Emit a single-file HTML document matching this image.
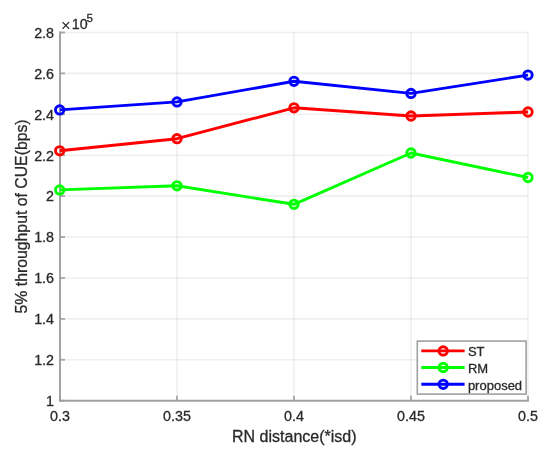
<!DOCTYPE html>
<html><head><meta charset="utf-8"><title>5% throughput of CUE</title>
<style>
html,body{margin:0;padding:0;background:#fff;}
body{width:550px;height:453px;overflow:hidden;}
svg{display:block;filter:blur(0.35px);}
svg text{font-family:"Liberation Sans", Arial, Helvetica, sans-serif;fill:#2a2a2a;stroke:#2a2a2a;stroke-width:0.3px;}
</style></head>
<body>
<svg width="550" height="453" viewBox="0 0 550 453">
<rect width="550" height="453" fill="#fff"/>
<line x1="177.0" y1="32.5" x2="177.0" y2="400.7" stroke="rgba(38,38,38,0.075)" stroke-width="1.6"/>
<line x1="294.0" y1="32.5" x2="294.0" y2="400.7" stroke="rgba(38,38,38,0.075)" stroke-width="1.6"/>
<line x1="411.0" y1="32.5" x2="411.0" y2="400.7" stroke="rgba(38,38,38,0.075)" stroke-width="1.6"/>
<line x1="528.0" y1="32.5" x2="528.0" y2="400.7" stroke="rgba(38,38,38,0.075)" stroke-width="1.6"/>
<line x1="60.0" y1="359.79" x2="528.0" y2="359.79" stroke="rgba(38,38,38,0.075)" stroke-width="1.6"/>
<line x1="60.0" y1="318.88" x2="528.0" y2="318.88" stroke="rgba(38,38,38,0.075)" stroke-width="1.6"/>
<line x1="60.0" y1="277.97" x2="528.0" y2="277.97" stroke="rgba(38,38,38,0.075)" stroke-width="1.6"/>
<line x1="60.0" y1="237.06" x2="528.0" y2="237.06" stroke="rgba(38,38,38,0.075)" stroke-width="1.6"/>
<line x1="60.0" y1="196.14" x2="528.0" y2="196.14" stroke="rgba(38,38,38,0.075)" stroke-width="1.6"/>
<line x1="60.0" y1="155.23" x2="528.0" y2="155.23" stroke="rgba(38,38,38,0.075)" stroke-width="1.6"/>
<line x1="60.0" y1="114.32" x2="528.0" y2="114.32" stroke="rgba(38,38,38,0.075)" stroke-width="1.6"/>
<line x1="60.0" y1="73.41" x2="528.0" y2="73.41" stroke="rgba(38,38,38,0.075)" stroke-width="1.6"/>
<line x1="60.0" y1="32.50" x2="528.0" y2="32.50" stroke="rgba(38,38,38,0.075)" stroke-width="1.6"/>
<line x1="60.0" y1="400.7" x2="60.0" y2="395.7" stroke="#a6a6a6" stroke-width="1.8"/>
<line x1="177.0" y1="400.7" x2="177.0" y2="395.7" stroke="#a6a6a6" stroke-width="1.8"/>
<line x1="294.0" y1="400.7" x2="294.0" y2="395.7" stroke="#a6a6a6" stroke-width="1.8"/>
<line x1="411.0" y1="400.7" x2="411.0" y2="395.7" stroke="#a6a6a6" stroke-width="1.8"/>
<line x1="528.0" y1="400.7" x2="528.0" y2="395.7" stroke="#a6a6a6" stroke-width="1.8"/>
<line x1="60.0" y1="400.70" x2="65.0" y2="400.70" stroke="#a6a6a6" stroke-width="1.8"/>
<line x1="60.0" y1="359.79" x2="65.0" y2="359.79" stroke="#a6a6a6" stroke-width="1.8"/>
<line x1="60.0" y1="318.88" x2="65.0" y2="318.88" stroke="#a6a6a6" stroke-width="1.8"/>
<line x1="60.0" y1="277.97" x2="65.0" y2="277.97" stroke="#a6a6a6" stroke-width="1.8"/>
<line x1="60.0" y1="237.06" x2="65.0" y2="237.06" stroke="#a6a6a6" stroke-width="1.8"/>
<line x1="60.0" y1="196.14" x2="65.0" y2="196.14" stroke="#a6a6a6" stroke-width="1.8"/>
<line x1="60.0" y1="155.23" x2="65.0" y2="155.23" stroke="#a6a6a6" stroke-width="1.8"/>
<line x1="60.0" y1="114.32" x2="65.0" y2="114.32" stroke="#a6a6a6" stroke-width="1.8"/>
<line x1="60.0" y1="73.41" x2="65.0" y2="73.41" stroke="#a6a6a6" stroke-width="1.8"/>
<line x1="60.0" y1="32.50" x2="65.0" y2="32.50" stroke="#a6a6a6" stroke-width="1.8"/>
<line x1="60.0" y1="31.6" x2="60.0" y2="401.59999999999997" stroke="#a0a0a0" stroke-width="1.9"/>
<line x1="59.1" y1="400.7" x2="528.9" y2="400.7" stroke="#a0a0a0" stroke-width="1.9"/>
<polyline points="59.70,150.80 177.00,138.70 294.00,107.80 411.00,116.00 528.00,112.00" fill="none" stroke="#ff0000" stroke-width="2.9" stroke-linejoin="round"/>
<circle cx="59.70" cy="150.80" r="4.2" fill="none" stroke="#ff0000" stroke-width="2.9"/>
<circle cx="177.00" cy="138.70" r="4.2" fill="none" stroke="#ff0000" stroke-width="2.9"/>
<circle cx="294.00" cy="107.80" r="4.2" fill="none" stroke="#ff0000" stroke-width="2.9"/>
<circle cx="411.00" cy="116.00" r="4.2" fill="none" stroke="#ff0000" stroke-width="2.9"/>
<circle cx="528.00" cy="112.00" r="4.2" fill="none" stroke="#ff0000" stroke-width="2.9"/>
<polyline points="59.70,189.90 177.00,185.80 294.00,204.30 411.00,153.00 528.00,177.50" fill="none" stroke="#00ff00" stroke-width="2.9" stroke-linejoin="round"/>
<circle cx="59.70" cy="189.90" r="4.2" fill="none" stroke="#00ff00" stroke-width="2.9"/>
<circle cx="177.00" cy="185.80" r="4.2" fill="none" stroke="#00ff00" stroke-width="2.9"/>
<circle cx="294.00" cy="204.30" r="4.2" fill="none" stroke="#00ff00" stroke-width="2.9"/>
<circle cx="411.00" cy="153.00" r="4.2" fill="none" stroke="#00ff00" stroke-width="2.9"/>
<circle cx="528.00" cy="177.50" r="4.2" fill="none" stroke="#00ff00" stroke-width="2.9"/>
<polyline points="59.70,109.90 177.00,101.90 294.00,81.30 411.00,93.40 528.00,75.10" fill="none" stroke="#0000ff" stroke-width="2.9" stroke-linejoin="round"/>
<circle cx="59.70" cy="109.90" r="4.2" fill="none" stroke="#0000ff" stroke-width="2.9"/>
<circle cx="177.00" cy="101.90" r="4.2" fill="none" stroke="#0000ff" stroke-width="2.9"/>
<circle cx="294.00" cy="81.30" r="4.2" fill="none" stroke="#0000ff" stroke-width="2.9"/>
<circle cx="411.00" cy="93.40" r="4.2" fill="none" stroke="#0000ff" stroke-width="2.9"/>
<circle cx="528.00" cy="75.10" r="4.2" fill="none" stroke="#0000ff" stroke-width="2.9"/>
<rect x="417.3" y="341.1" width="108.8" height="53.0" fill="#fff" stroke="#a0a0a0" stroke-width="1.6"/>
<line x1="421.3" y1="350.9" x2="464.6" y2="350.9" stroke="#ff0000" stroke-width="2.9"/>
<circle cx="443.2" cy="350.9" r="4.2" fill="none" stroke="#ff0000" stroke-width="2.9"/>
<text x="467.9" y="356.30" font-size="13">ST</text>
<line x1="421.3" y1="367.5" x2="464.6" y2="367.5" stroke="#00ff00" stroke-width="2.9"/>
<circle cx="443.2" cy="367.5" r="4.2" fill="none" stroke="#00ff00" stroke-width="2.9"/>
<text x="467.9" y="372.90" font-size="13">RM</text>
<line x1="421.3" y1="384.3" x2="464.6" y2="384.3" stroke="#0000ff" stroke-width="2.9"/>
<circle cx="443.2" cy="384.3" r="4.2" fill="none" stroke="#0000ff" stroke-width="2.9"/>
<text x="467.9" y="389.70" font-size="13">proposed</text>
<text x="54" y="406.00" text-anchor="end" font-size="14.3">1</text>
<text x="54" y="365.09" text-anchor="end" font-size="14.3">1.2</text>
<text x="54" y="324.18" text-anchor="end" font-size="14.3">1.4</text>
<text x="54" y="283.27" text-anchor="end" font-size="14.3">1.6</text>
<text x="54" y="242.36" text-anchor="end" font-size="14.3">1.8</text>
<text x="54" y="201.44" text-anchor="end" font-size="14.3">2</text>
<text x="54" y="160.53" text-anchor="end" font-size="14.3">2.2</text>
<text x="54" y="119.62" text-anchor="end" font-size="14.3">2.4</text>
<text x="54" y="78.71" text-anchor="end" font-size="14.3">2.6</text>
<text x="54" y="37.80" text-anchor="end" font-size="14.3">2.8</text>
<text x="60.00" y="421.3" text-anchor="middle" font-size="14.3">0.3</text>
<text x="177.00" y="421.3" text-anchor="middle" font-size="14.3">0.35</text>
<text x="294.00" y="421.3" text-anchor="middle" font-size="14.3">0.4</text>
<text x="411.00" y="421.3" text-anchor="middle" font-size="14.3">0.45</text>
<text x="528.00" y="421.3" text-anchor="middle" font-size="14.3">0.5</text>
<text x="65.8" y="30.6" text-anchor="middle" font-size="16.5" style="stroke-width:0">&#215;</text>
<text x="71.8" y="29" font-size="14.3">10</text>
<text x="86.5" y="21.8" font-size="11.6">5</text>
<text x="294.3" y="441.5" text-anchor="middle" font-size="16">RN distance(*isd)</text>
<text transform="translate(26.5,216.4) rotate(-90)" x="0" y="0" text-anchor="middle" font-size="15.8">5% throughput of CUE(bps)</text>
</svg>
</body></html>
